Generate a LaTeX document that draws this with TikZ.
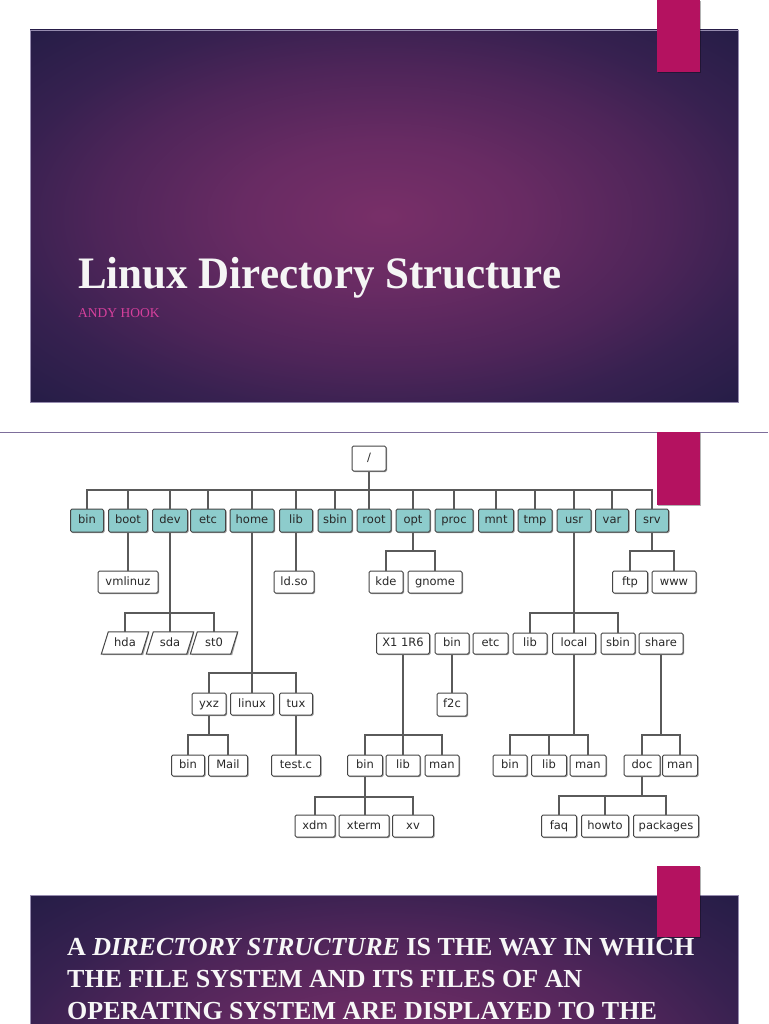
\documentclass[tikz,border=0pt]{standalone}
\usepackage{fontspec}
\setmainfont{Liberation Serif}
\newfontfamily\treefont{DejaVu Sans}
\usetikzlibrary{shadows,calc}
\definecolor{pc0}{RGB}{120,47,104}
\definecolor{pc1}{RGB}{104,43,99}
\definecolor{pc2}{RGB}{78,37,89}
\definecolor{pc3}{RGB}{55,33,80}
\definecolor{pc4}{RGB}{38,29,71}
\definecolor{tabpink}{RGB}{180,18,96}
\definecolor{authorpink}{RGB}{214,64,156}
\definecolor{dirteal}{RGB}{141,204,204}
\definecolor{boxline}{RGB}{70,70,70}
\definecolor{connclr}{RGB}{90,90,90}
\definecolor{boxtext}{RGB}{40,40,40}
\definecolor{sepline}{RGB}{125,110,155}
\definecolor{slideedge}{RGB}{150,140,175}
\pgfdeclareradialshading{slidebg}{\pgfpoint{0bp}{0bp}}{color(0bp)=(pc0); color(10bp)=(pc1); color(20bp)=(pc2); color(27bp)=(pc3); color(35bp)=(pc4); color(50bp)=(pc4)}
\begin{document}
\begin{tikzpicture}[x=1pt,y=-1pt,
  boxfont/.style={font=\treefont\fontsize{11.5}{13}\selectfont, text=boxtext, text height=8.5pt, text depth=2.5pt},
  dirbox/.style={draw=boxline, line width=1pt, rounded corners=1.5pt, fill=white, inner sep=0pt,
    minimum height=22pt, boxfont,
    drop shadow={shadow xshift=1pt, shadow yshift=-1pt, opacity=0.4, fill=black}},
  topbox/.style={dirbox, fill=dirteal, minimum height=23pt},
  pgram/.style={inner sep=0pt, minimum height=22pt, boxfont},
  conn/.style={draw=connclr, line width=1.6pt},
  tab/.style={fill=tabpink, drop shadow={shadow xshift=1pt, shadow yshift=-1pt, opacity=0.3, fill=black}},
  slidebox/.style={shading=slidebg, draw=slideedge, line width=0.5pt},
  desc/.style={anchor=base west, inner sep=0pt, text=white!94!gray, font=\fontsize{26}{30}\selectfont\bfseries}
]
\useasboundingbox (0,0) rectangle (768,1024);
\fill[white] (0,0) rectangle (768,1024);

% ---------- slide 1 ----------
\shade[slidebox] (30,30) rectangle (738,402);
\fill[tab] (657,0) rectangle (700,72);
\node[anchor=base west, inner sep=0pt, text=white!92!gray, font=\fontsize{45}{50}\selectfont\bfseries] (title) at (78,288) {\scalebox{0.955}[1]{Linux Directory Structure}};
\node[anchor=base west, inner sep=0pt, text=authorpink, font=\fontsize{13.5}{16}\selectfont] (author) at (78,317) {ANDY HOOK};

% ---------- slide 2 ----------
\draw[sepline, line width=1pt] (0,432) -- (768,432);
\fill[tab] (657,432) rectangle (700,505);

% root
\node[dirbox, minimum width=34pt, minimum height=25pt] (slash) at (369,458.5) {/};
% first level
\node[topbox, minimum width=33pt] (bin) at (87,520.5) {bin};
\node[topbox, minimum width=39pt] (boot) at (128,520.5) {boot};
\node[topbox, minimum width=35pt] (dev) at (170,520.5) {dev};
\node[topbox, minimum width=35pt] (etc) at (208,520.5) {etc};
\node[topbox, minimum width=44pt] (home) at (252,520.5) {home};
\node[topbox, minimum width=33pt] (lib) at (296,520.5) {lib};
\node[topbox, minimum width=34pt] (sbin) at (335,520.5) {sbin};
\node[topbox, minimum width=34pt] (root) at (374,520.5) {root};
\node[topbox, minimum width=34pt] (opt) at (413,520.5) {opt};
\node[topbox, minimum width=38pt] (proc) at (454,520.5) {proc};
\node[topbox, minimum width=35pt] (mnt) at (496,520.5) {mnt};
\node[topbox, minimum width=34pt] (tmp) at (535,520.5) {tmp};
\node[topbox, minimum width=34pt] (usr) at (574,520.5) {usr};
\node[topbox, minimum width=33pt] (var) at (612,520.5) {var};
\node[topbox, minimum width=33pt] (srv) at (652,520.5) {srv};
\coordinate (bus) at (369,490);

% second level
\node[dirbox, minimum width=60pt] (vmlinuz) at (128,582) {vmlinuz};
\node[dirbox, minimum width=40pt] (ldso) at (294,582) {ld.so};
\node[dirbox, minimum width=34pt] (kde) at (386,582) {kde};
\node[dirbox, minimum width=54pt] (gnome) at (435,582) {gnome};
\node[dirbox, minimum width=35pt] (ftp) at (630,582) {ftp};
\node[dirbox, minimum width=44pt] (www) at (674,582) {www};
\coordinate (optbus) at (413,551);
\coordinate (srvbus) at (652,551);

% dev children (parallelograms)
\node[pgram, minimum width=40pt] (hda) at (125,643) {};
\node[pgram, minimum width=40pt] (sda) at (170,643) {};
\node[pgram, minimum width=40pt] (st0) at (214,643) {};
\coordinate (devbus) at (170,613);

% usr children
\node[dirbox, minimum width=53pt, minimum height=21pt] (x11) at (403,643.5) {X1 1R6};
\node[dirbox, minimum width=34pt, minimum height=21pt] (ubin) at (452,643.5) {bin};
\node[dirbox, minimum width=35pt, minimum height=21pt] (uetc) at (490.5,643.5) {etc};
\node[dirbox, minimum width=34pt, minimum height=21pt] (ulib) at (530,643.5) {lib};
\node[dirbox, minimum width=43pt, minimum height=21pt] (local) at (574,643.5) {local};
\node[dirbox, minimum width=34pt, minimum height=21pt] (usbin) at (618,643.5) {sbin};
\node[dirbox, minimum width=44pt, minimum height=21pt] (share) at (661,643.5) {share};
\coordinate (usrbus) at (574,613);

% home children
\node[dirbox, minimum width=34pt] (yxz) at (209,704) {yxz};
\node[dirbox, minimum width=43pt] (linux) at (252,704) {linux};
\node[dirbox, minimum width=33pt] (tux) at (296,704) {tux};
\coordinate (homebus) at (252,673);
\node[dirbox, minimum width=30pt, minimum height=23pt] (f2c) at (452,704.5) {f2c};

% fifth row
\node[dirbox, minimum width=33pt, minimum height=21pt] (ybin) at (188,765.5) {bin};
\node[dirbox, minimum width=39pt, minimum height=21pt] (mail) at (228,765.5) {Mail};
\node[dirbox, minimum width=49pt, minimum height=21pt] (testc) at (296,765.5) {test.c};
\node[dirbox, minimum width=35pt, minimum height=21pt] (xbin) at (365,765.5) {bin};
\node[dirbox, minimum width=34pt, minimum height=21pt] (xlib) at (403,765.5) {lib};
\node[dirbox, minimum width=34pt, minimum height=21pt] (xman) at (442,765.5) {man};
\node[dirbox, minimum width=34pt, minimum height=21pt] (lbin) at (510,765.5) {bin};
\node[dirbox, minimum width=35pt, minimum height=21pt] (llib) at (549,765.5) {lib};
\node[dirbox, minimum width=36pt, minimum height=21pt] (lman) at (588,765.5) {man};
\node[dirbox, minimum width=36pt, minimum height=21pt] (doc) at (642,765.5) {doc};
\node[dirbox, minimum width=35pt, minimum height=21pt] (sman) at (680,765.5) {man};
\coordinate (yxzbus) at (209,735);
\coordinate (x11bus) at (403,735);
\coordinate (localbus) at (574,735);
\coordinate (sharebus) at (661,735);

% sixth row
\node[dirbox, minimum width=40pt] (xdm) at (315,826) {xdm};
\node[dirbox, minimum width=50pt] (xterm) at (364,826) {xterm};
\node[dirbox, minimum width=41pt] (xv) at (413,826) {xv};
\node[dirbox, minimum width=35pt] (faq) at (559,826) {faq};
\node[dirbox, minimum width=47pt] (howto) at (605,826) {howto};
\node[dirbox, minimum width=65pt] (packages) at (666,826) {packages};
\coordinate (xbinbus) at (365,797);
\coordinate (docbus) at (642,796);

% parallelogram outlines and labels
\foreach \n in {hda,sda,st0}{
  \fill[black, opacity=0.35] ($(\n.south west)+(-2,1)$) -- ($(\n.north west)+(4,1)$) -- ($(\n.north east)+(4,1)$) -- ($(\n.south east)+(-2,1)$) -- cycle;
  \draw[boxline, fill=white, line width=1pt] ($(\n.south west)+(-3.5,0)$) -- ($(\n.north west)+(3.5,0)$) -- ($(\n.north east)+(3.5,0)$) -- ($(\n.south east)+(-3.5,0)$) -- cycle;
  \node[pgram] at (\n) {\n};
}

% ---------- connectors ----------
\draw[conn] (slash.south) -- (slash.south |- root.north);
\draw[conn] (bin.north) -- (bin.north |- bus) -- (srv.north |- bus) -- (srv.north);
\foreach \n in {boot,dev,etc,home,lib,sbin,opt,proc,mnt,tmp,usr,var}
  \draw[conn] (\n.north) -- (\n.north |- bus);
% level 2
\draw[conn] (boot.south) -- (boot.south |- vmlinuz.north);
\draw[conn] (lib.south) -- (lib.south |- ldso.north);
\draw[conn] (opt.south) -- (optbus);
\draw[conn] (kde.north) -- (kde.north |- optbus) -- (gnome.north |- optbus) -- (gnome.north);
\draw[conn] (srv.south) -- (srvbus);
\draw[conn] (ftp.north) -- (ftp.north |- srvbus) -- (www.north |- srvbus) -- (www.north);
% dev
\draw[conn] (dev.south) -- (devbus);
\draw[conn] (hda.north) -- (hda.north |- devbus) -- (st0.north |- devbus) -- (st0.north);
\draw[conn] (sda.north) -- (sda.north |- devbus);
% usr
\draw[conn] (usr.south) -- (usr.south |- local.north);
\draw[conn] (ulib.north) -- (ulib.north |- usrbus) -- (usbin.north |- usrbus) -- (usbin.north);
% home
\draw[conn] (home.south) -- (home.south |- linux.north);
\draw[conn] (yxz.north) -- (yxz.north |- homebus) -- (tux.north |- homebus) -- (tux.north);
\draw[conn] (ubin.south) -- (ubin.south |- f2c.north);
% level 5
\draw[conn] (yxz.south) -- (yxzbus);
\draw[conn] (ybin.north) -- (ybin.north |- yxzbus) -- (mail.north |- yxzbus) -- (mail.north);
\draw[conn] (tux.south) -- (tux.south |- testc.north);
\draw[conn] (x11.south) -- (x11.south |- xlib.north);
\draw[conn] (xbin.north) -- (xbin.north |- x11bus) -- (xman.north |- x11bus) -- (xman.north);
\draw[conn] (local.south) -- (localbus);
\draw[conn] (lbin.north) -- (lbin.north |- localbus) -- (lman.north |- localbus) -- (lman.north);
\draw[conn] (llib.north) -- (llib.north |- localbus);
\draw[conn] (share.south) -- (sharebus);
\draw[conn] (doc.north) -- (doc.north |- sharebus) -- (sman.north |- sharebus) -- (sman.north);
% level 6
\draw[conn] (xbin.south) -- (xbin.south |- xterm.north);
\draw[conn] (xdm.north) -- (xdm.north |- xbinbus) -- (xv.north |- xbinbus) -- (xv.north);
\draw[conn] (doc.south) -- (docbus);
\draw[conn] (faq.north) -- (faq.north |- docbus) -- (packages.north |- docbus) -- (packages.north);
\draw[conn] (howto.north) -- (howto.north |- docbus);

% ---------- slide 3 ----------
\begin{scope}
\clip (0,0) rectangle (768,1024);
\shade[slidebox] (30,895) rectangle (738,1267);
\fill[tab] (657,866) rectangle (700,937);
\node[desc] (line1) at (67,955) {A \textit{DIRECTORY STRUCTURE} IS THE WAY IN WHICH};
\node[desc] (line2) at (67,987) {THE FILE SYSTEM AND ITS FILES OF AN};
\node[desc] (line3) at (67,1019) {OPERATING SYSTEM ARE DISPLAYED TO THE};
\end{scope}
\end{tikzpicture}
\end{document}
